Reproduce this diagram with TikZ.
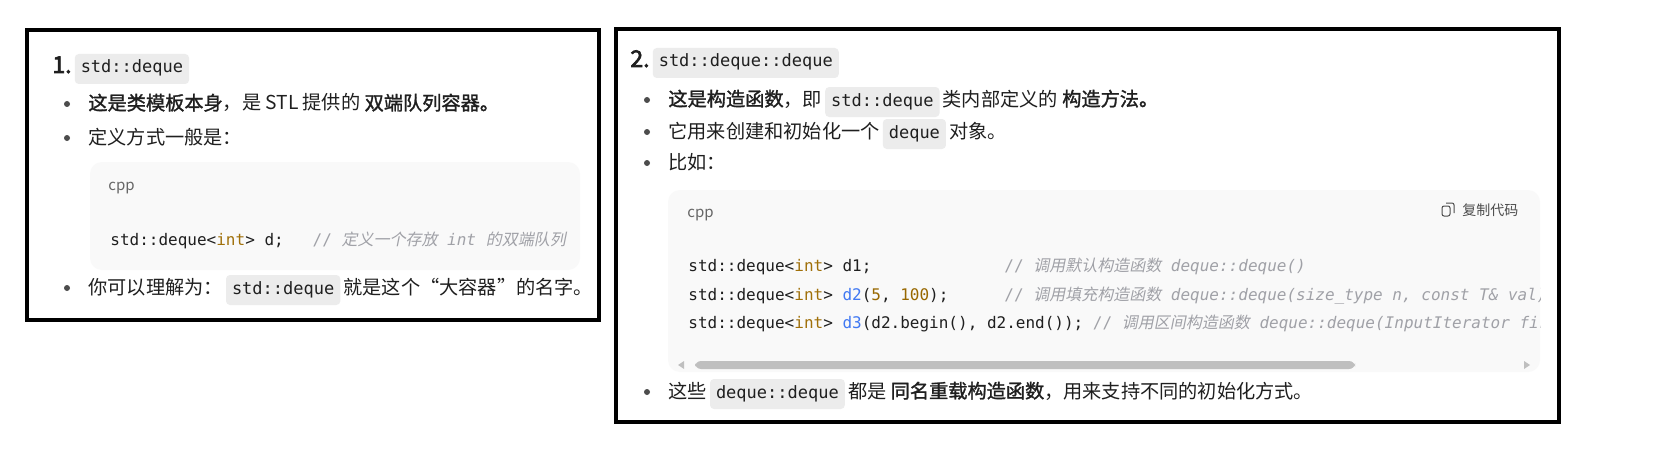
\documentclass[tikz,border=0pt]{standalone}
\usepackage{fontspec}
\setmainfont{Noto Sans CJK SC}
\setmonofont{DejaVu Sans Mono}
\newfontfamily\cjkit[FakeSlant=0.2]{Noto Sans CJK SC}
\newfontfamily\cjkb[FakeBold=1.5]{Noto Sans CJK SC}
\newfontfamily\cjkbb[FakeBold=3]{Noto Sans CJK SC}
\definecolor{chipbg}{HTML}{ECECEC}
\definecolor{codebg}{HTML}{F9F9F9}
\definecolor{kw}{HTML}{A0700A}
\definecolor{fn}{HTML}{4078F2}
\definecolor{num}{HTML}{986801}
\definecolor{cm}{HTML}{A0A1A7}
\definecolor{txt}{HTML}{1F1F1F}
\newcommand{\cmt}[1]{{\color{cm}#1}}
\newcommand{\chipc}[1]{\,\tikz[baseline=(X.base)]\node[fill=chipbg,rounded corners=2pt,inner xsep=3pt,inner ysep=2.5pt,font=\fontsize{8.5}{10}\ttfamily] (X) {\strut #1};\,}
\tikzset{
 frame/.style={draw=black,line width=2pt},
 t/.style={anchor=base west,inner sep=0pt,font=\fontsize{9.6}{12}\selectfont,text=txt},
 code/.style={anchor=base west,inner sep=0pt,font=\fontsize{8}{10}\ttfamily,text=txt},
 blk/.style={fill=codebg,rounded corners=6pt},
 dot/.style={circle,fill=black!70,inner sep=0pt,minimum size=3pt},
}
\begin{document}
\begin{tikzpicture}[x=0.5pt,y=-0.5pt]
\useasboundingbox[fill=white] (0,0) rectangle (1657,460);
% box 1
\node[frame,minimum width=286pt,minimum height=145pt,anchor=north west,inner sep=0pt] (b1) at (25,28) {};
\node[t] (n1) at (52,73) {{\fontsize{11.5}{12}\selectfont\cjkbb 1.}\chipc{std::deque}};
\node[dot] (d11) at (67,104) {};
\node[t] (l11) at (88,110) {{\cjkb 这是类模板本身}，是 STL 提供的 {\cjkb 双端队列容器。}};
\node[dot] (d12) at (67,138) {};
\node[t] (l12) at (88,144) {定义方式一般是：};
\fill[blk] (90,162) rectangle (580,270);
\node[t,text=black!60,font=\fontsize{7.5}{9}\selectfont] (cpp1) at (108,190) {cpp};
\node[code] (k1) at (110,245) {std::deque<{\color{kw}int}> d;\ \ \ \cmt{// {\cjkit 定义一个存放} {\itshape int} {\cjkit 的双端队列}}};
\node[dot] (d13) at (67,288) {};
\node[t] (l13) at (88,294) {你可以理解为：\chipc{std::deque}就是这个“大容器”的名字。};
% box 2
\node[frame,minimum width=471.5pt,minimum height=196.5pt,anchor=north west,inner sep=0pt] (b2) at (614,27) {};
\node[t] (n2) at (630,67) {{\fontsize{11.5}{12}\selectfont\cjkbb 2.}\chipc{std::deque::deque}};
\node[dot] (d21) at (647,100) {};
\node[t] (l21) at (668,106) {{\cjkb 这是构造函数}，即\chipc{std::deque}类内部定义的 {\cjkb 构造方法。}};
\node[dot] (d22) at (647,132) {};
\node[t] (l22) at (668,138) {它用来创建和初始化一个\chipc{deque}对象。};
\node[dot] (d23) at (647,163) {};
\node[t] (l23) at (668,169) {比如：};
\fill[blk] (668,190) rectangle (1540,372);
\node[t,text=black!60,font=\fontsize{7.5}{9}\selectfont] (cpp2) at (687,217) {cpp};
\draw[black!70,line width=0.5pt,rounded corners=1pt] (1442,206) rectangle (1450,216) (1446,203) -- (1454,203) -- (1454,213);
\node[t,text=black!70,font=\fontsize{7}{8}\selectfont] (copy) at (1462,215) {复制代码};
\begin{scope}
\clip (668,190) rectangle (1540,372);
\node[code] (k21) at (688,271) {std::deque<{\color{kw}int}> d1;};
\node[code] (k21c) at (1004,271) {\cmt{// {\cjkit 调用默认构造函数} {\itshape deque::deque()}}};
\node[code] (k22) at (688,300) {std::deque<{\color{kw}int}> {\color{fn}d2}({\color{num}5}, {\color{num}100});};
\node[code] (k22c) at (1004,300) {\cmt{// {\cjkit 调用填充构造函数} {\itshape deque::deque(size\_type n, const T\& val)}}};
\node[code] (k23) at (688,328) {std::deque<{\color{kw}int}> {\color{fn}d3}(d2.begin(), d2.end()); \cmt{// {\cjkit 调用区间构造函数} {\itshape deque::deque(InputIterator first,}}};
\end{scope}
\fill[black!25,rounded corners=3pt] (695,361) rectangle (1355,369);
\fill[black!25] (678,365) -- (684,361) -- (684,369) -- cycle;
\fill[black!25] (1530,365) -- (1524,361) -- (1524,369) -- cycle;
\node[dot] (d24) at (647,392) {};
\node[t] (l24) at (668,398) {这些\chipc{deque::deque}都是 {\cjkb 同名重载构造函数}，用来支持不同的初始化方式。};
\end{tikzpicture}
\end{document}
